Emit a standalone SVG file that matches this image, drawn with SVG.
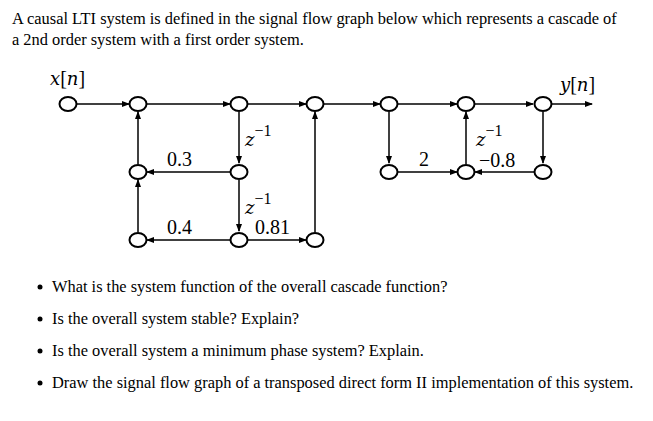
<svg xmlns="http://www.w3.org/2000/svg" width="653" height="421" viewBox="0 0 653 421">
<style>
.n{fill:#fff;stroke:#000;stroke-width:2}
.e{stroke:#000;stroke-width:1.5;fill:none;marker-end:url(#a)}
.t{font-family:"Liberation Serif","DejaVu Serif",serif;font-size:16.4px;fill:#000}
.l{font-family:"Liberation Serif","DejaVu Serif",serif;font-size:20px;fill:#000}
.i{font-family:"DejaVu Serif",serif;font-style:italic;font-size:18px}
</style>
<defs><marker id="a" markerWidth="8" markerHeight="6" refX="7" refY="3" orient="auto" markerUnits="userSpaceOnUse"><path d="M0,0L8,3L0,6z"/></marker></defs>
<rect width="653" height="421" fill="#fff"/>
<text class="t" x="12" y="24">A causal LTI system is defined in the signal flow graph below which represents a cascade of</text>
<text class="t" x="12" y="45">a 2nd order system with a first order system.</text>
<g id="edges">
<path class="e" d="M76,104H129"/><path class="e" d="M147,104H230"/><path class="e" d="M248,104H306"/>
<path class="e" d="M324,104H380"/><path class="e" d="M398,104H457"/><path class="e" d="M475,104H533"/>
<path class="e" d="M551,104H592"/>
<path class="e" d="M239,112V163"/><path class="e" d="M239,180V231"/>
<path class="e" d="M230,172H147"/><path class="e" d="M230,240H147"/>
<path class="e" d="M138,232V180"/><path class="e" d="M138,164V112"/>
<path class="e" d="M248,240H306"/><path class="e" d="M315,232V112"/>
<path class="e" d="M389,112V163"/><path class="e" d="M398,172H457"/><path class="e" d="M466,164V112"/>
<path class="e" d="M543,112V163"/><path class="e" d="M534,172H475"/>
</g>
<g id="nodes">
<ellipse id="n0" class="n" cx="68" cy="104" rx="8.5" ry="7"/>
<ellipse id="n1" class="n" cx="138" cy="104" rx="8.5" ry="7"/>
<ellipse id="n2" class="n" cx="239" cy="104" rx="8.5" ry="7"/>
<ellipse id="n3" class="n" cx="315" cy="104" rx="8.5" ry="7"/>
<ellipse id="n4" class="n" cx="389" cy="104" rx="8.5" ry="7"/>
<ellipse id="n5" class="n" cx="466" cy="104" rx="8.5" ry="7"/>
<ellipse id="n6" class="n" cx="543" cy="104" rx="8.5" ry="7"/>
<ellipse id="n7" class="n" cx="138" cy="172" rx="8.5" ry="7"/>
<ellipse id="n8" class="n" cx="239" cy="172" rx="8.5" ry="7"/>
<ellipse id="n9" class="n" cx="138" cy="240" rx="8.5" ry="7"/>
<ellipse id="n10" class="n" cx="239" cy="240" rx="8.5" ry="7"/>
<ellipse id="n11" class="n" cx="315" cy="240" rx="8.5" ry="7"/>
<ellipse id="n12" class="n" cx="389" cy="172" rx="8.5" ry="7"/>
<ellipse id="n13" class="n" cx="466" cy="172" rx="8.5" ry="7"/>
<ellipse id="n14" class="n" cx="543" cy="172" rx="8.5" ry="7"/>
</g>
<g id="labels">
<text class="l" x="50" y="85"><tspan class="i">x</tspan>[<tspan class="i">n</tspan>]</text>
<text class="l" x="560" y="91"><tspan class="i">y</tspan>[<tspan class="i">n</tspan>]</text>
<text class="l" x="245" y="146"><tspan class="i">z</tspan><tspan dy="-10" font-size="16">−1</tspan></text>
<text class="l" x="245" y="214"><tspan class="i">z</tspan><tspan dy="-10" font-size="16">−1</tspan></text>
<text class="l" x="167" y="166">0.3</text>
<text class="l" x="167" y="234">0.4</text>
<text class="l" x="255" y="234">0.81</text>
<text class="l" x="419" y="166">2</text>
<text class="l" x="476" y="146"><tspan class="i">z</tspan><tspan dy="-10" font-size="16">−1</tspan></text>
<text class="l" x="479" y="167">−0.8</text>
</g>
<g class="t">
<circle cx="40" cy="287" r="2.5"/><text x="52" y="292">What is the system function of the overall cascade function?</text>
<circle cx="40" cy="319" r="2.5"/><text x="52" y="324">Is the overall system stable? Explain?</text>
<circle cx="40" cy="351" r="2.5"/><text x="52" y="356">Is the overall system a minimum phase system? Explain.</text>
<circle cx="40" cy="383" r="2.5"/><text x="52" y="388">Draw the signal flow graph of a transposed direct form II implementation of this system.</text>
</g>
</svg>
